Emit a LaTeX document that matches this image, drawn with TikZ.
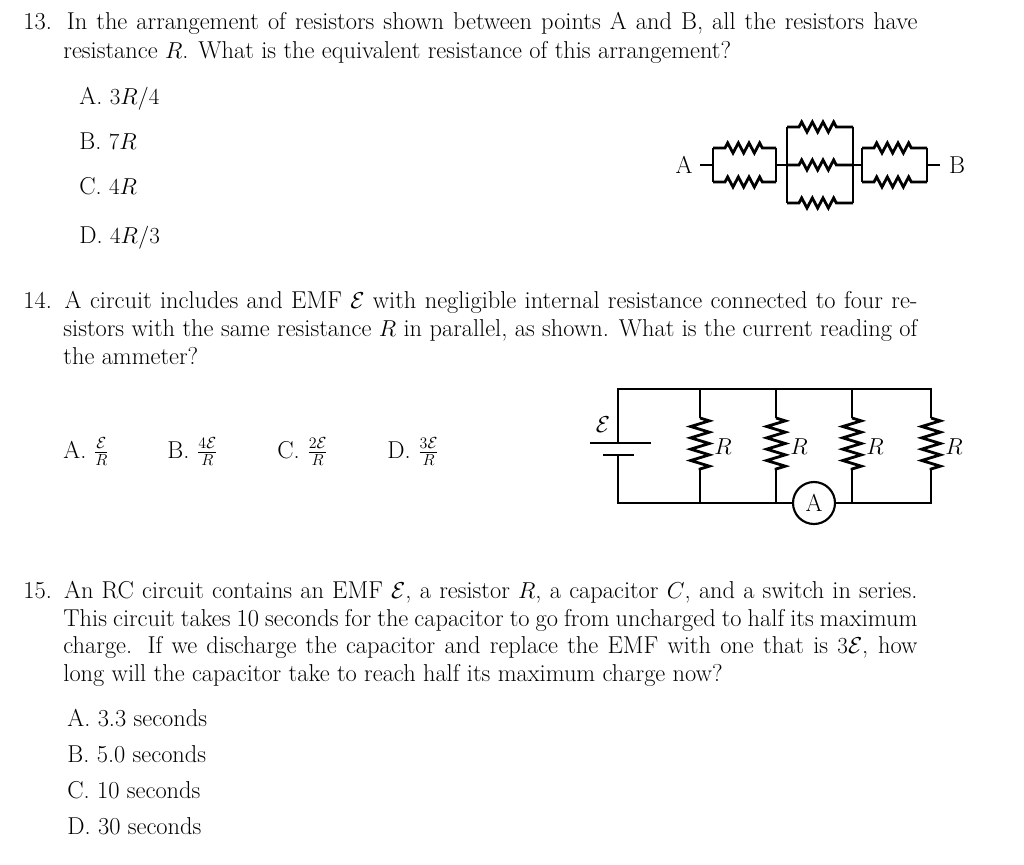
\documentclass[tikz,border=0pt]{standalone}
\usetikzlibrary{decorations.pathmorphing}
\newcommand{\fullA}[1]{\makebox[670.5pt][s]{#1}}
\newcommand{\fullB}[1]{\makebox[640.5pt][s]{#1}}
\begin{document}
\begin{tikzpicture}[x=0.75pt,y=-0.75pt,line width=2.1pt,
  every node/.style={inner sep=0pt,font=\fontsize{18.3}{21}\selectfont},
  tl/.style={anchor=base west},
  res/.style={decorate,decoration={zigzag,segment length=8pt,amplitude=3.8pt,pre length=9pt,post length=9pt}},
  vres/.style={decorate,decoration={zigzag,segment length=8.5pt,amplitude=7pt,pre length=0pt,post length=0pt}}]
\useasboundingbox (0,0) rectangle (1024,864);
% Q13
\node[tl] (q13a) at (22,29) {\fullA{13. In the arrangement of resistors shown between points A and B, all the resistors have}};
\node[tl] (q13b) at (62,58) {resistance $R$. What is the equivalent resistance of this arrangement?};
\node[tl] (a13a) at (78,104) {A. $3R/4$};
\node[tl] (a13b) at (78,149) {B. $7R$};
\node[tl] (a13c) at (78,194) {C. $4R$};
\node[tl] (a13d) at (78,243) {D. $4R/3$};
% circuit 1
\node (A) at (684,165) {A};
\node (B) at (957,165) {B};
\coordinate (la) at (700,165);
\coordinate (lb) at (713,165);
\draw (la) -- (lb);
\draw (713,148) -- (713,182);
\draw (776,148) -- (776,182);
\draw[res] (713,148) -- (776,148);
\draw[res] (713,182) -- (776,182);
\draw (776,165) -- (787,165);
\draw (787,127) -- (787,203);
\draw (853,127) -- (853,203);
\draw[res] (787,127) -- (853,127);
\draw[res] (787,165) -- (853,165);
\draw[res] (787,203) -- (853,203);
\draw (853,165) -- (862,165);
\draw (862,148) -- (862,182);
\draw (927,148) -- (927,182);
\draw[res] (862,148) -- (927,148);
\draw[res] (862,182) -- (927,182);
\draw (927,165) -- (940,165);
% Q14
\node[tl] (q14a) at (22,308) {\fullA{14. A circuit includes and EMF $\mathcal{E}$ with negligible internal resistance connected to four re-}};
\node[tl] (q14b) at (62,336) {\fullB{sistors with the same resistance $R$ in parallel, as shown. What is the current reading of}};
\node[tl] (q14c) at (62,364) {the ammeter?};
\node[tl] (a14a) at (62,458) {A. $\frac{\mathcal{E}}{R}$};
\node[tl] (a14b) at (166,458) {B. $\frac{4\mathcal{E}}{R}$};
\node[tl] (a14c) at (276,458) {C. $\frac{2\mathcal{E}}{R}$};
\node[tl] (a14d) at (386,458) {D. $\frac{3\mathcal{E}}{R}$};
% circuit 2
\node (eps) at (603,425) {$\mathcal{E}$};
\node[draw,circle,minimum size=42pt*0.75,line width=1.6pt] (am) at (814,503) {A};
\draw (618,443) -- (618,389) -- (931,389) -- (931,418);
\draw (590,443) -- (651,443);
\draw (603,455) -- (634,455);
\draw (618,455) -- (618,503) -- (am.west);
\draw (am.east) -- (931,503) -- (931,470);
\foreach \x/\n in {700/r1,776/r2,852/r3,931/r4}{
  \draw (\x,389) -- (\x,418);
  \draw[vres] (\x,418) -- (\x,470);
  \node[anchor=west] (\n) at (\x+13,447) {$R$};
}
\draw (700,470) -- (700,503);
\draw (776,470) -- (776,503);
\draw (852,470) -- (852,503);
% Q15
\node[tl] (q15a) at (22,598) {\fullA{15. An RC circuit contains an EMF $\mathcal{E}$, a resistor $R$, a capacitor $C$, and a switch in series.}};
\node[tl] (q15b) at (62,626) {\fullB{This circuit takes 10 seconds for the capacitor to go from uncharged to half its maximum}};
\node[tl] (q15c) at (62,653) {\fullB{charge. If we discharge the capacitor and replace the EMF with one that is $3\mathcal{E}$, how}};
\node[tl] (q15d) at (62,681) {long will the capacitor take to reach half its maximum charge now?};
\node[tl] (a15a) at (66,726) {A. 3.3 seconds};
\node[tl] (a15b) at (66,762) {B. 5.0 seconds};
\node[tl] (a15c) at (66,798) {C. 10 seconds};
\node[tl] (a15d) at (66,834) {D. 30 seconds};
\end{tikzpicture}
\end{document}
